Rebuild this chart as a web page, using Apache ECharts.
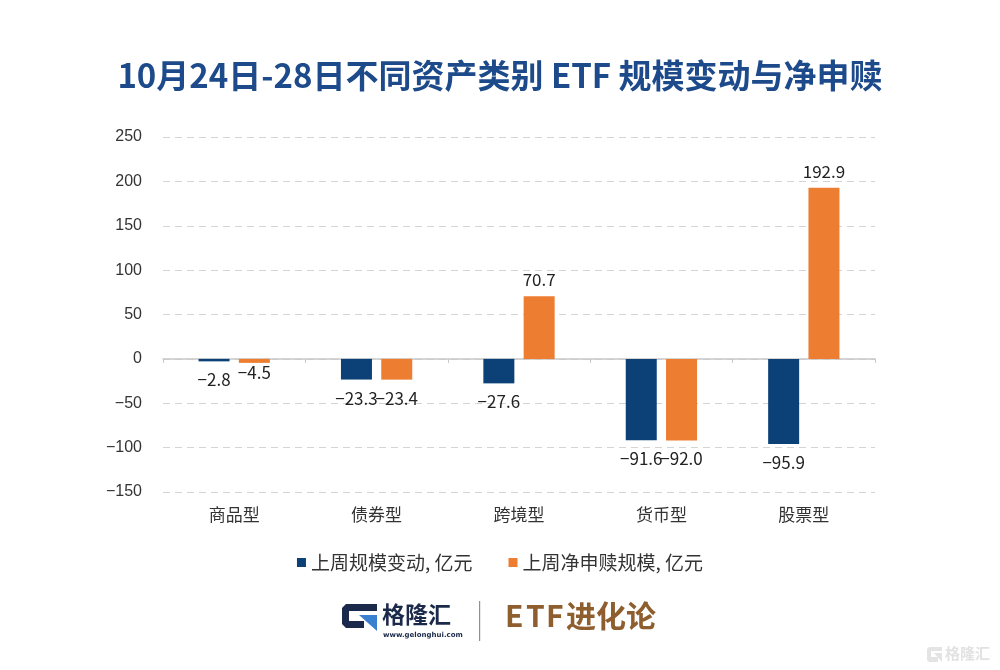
<!DOCTYPE html>
<html>
<head>
<meta charset="utf-8">
<script src="https://cdn.jsdelivr.net/npm/echarts@6/dist/echarts.min.js"></script>
<style>
html,body{margin:0;padding:0;background:#fff;}
#c{width:1000px;height:670px;}
</style>
</head>
<body>
<div id="c"></div>
<script>
const categories = ['商品型','债券型','跨境型','货币型','股票型'];
const scaleChange = [-2.8, -23.3, -27.6, -91.6, -95.9];
const netSubRed = [-4.5, -23.4, 70.7, -92.0, 192.9];
const seriesNames = ['上周规模变动, 亿元','上周净申赎规模, 亿元'];
const yTicks = {min:-150, max:250, interval:50};

const FONT = '"Noto Sans CJK SC","Noto Sans",sans-serif';
const chart = echarts.init(document.getElementById('c'), null, {renderer:'canvas'});

function items(vals, overrides){
  return vals.map((v,i)=>{
    const lab = {position: v>=0 ? 'top':'bottom', distance: v>=0 ? 8 : 10};
    if (overrides && overrides[i]) Object.assign(lab, overrides[i]);
    return {value:v, label:lab};
  });
}
const labelBase = {
  show:true, color:'#222', fontSize:17, fontFamily:FONT,
  formatter: p => p.value.toFixed(1).replace('-', '−')
};

chart.setOption({
  backgroundColor:'#ffffff',
  animation:false,
  title:{
    text:'10月24日-28日不同资产类别 ETF 规模变动与净申赎',
    left:'center', top:54,
    textStyle:{color:'#1d4a8a', fontSize:33, fontWeight:'bold', fontFamily:FONT}
  },
  legend:{
    data:seriesNames, left:'center', top:548,
    icon:'rect', itemWidth:9, itemHeight:9, itemGap:36,
    textStyle:{color:'#333', fontSize:19, fontFamily:FONT}
  },
  grid:{left:163, right:125, top:137, bottom:178, containLabel:false},
  xAxis:[{
    type:'category', data:categories, position:'bottom',
    axisLine:{show:false, onZero:false}, axisTick:{show:false},
    axisLabel:{color:'#333', fontSize:17, margin:14, fontFamily:FONT}
  },{
    type:'category', data:categories, position:'bottom',
    axisLine:{show:true, onZero:true, lineStyle:{color:'#c8c8c8', width:1.5}},
    axisTick:{show:true, length:4, lineStyle:{color:'#c8c8c8'}},
    axisLabel:{show:false}
  }],
  yAxis:{
    type:'value', min:yTicks.min, max:yTicks.max, interval:yTicks.interval,
    axisLine:{show:false}, axisTick:{show:false},
    axisLabel:{color:'#333', fontSize:16, margin:21, fontFamily:'"Liberation Sans",Arial,sans-serif',
      formatter: v => String(v).replace('-', '−')},
    splitLine:{show:true, lineStyle:{color:'#d4d4d4', type:[7,5], width:1.2}}
  },
  series:[{
    name:seriesNames[0], type:'bar', xAxisIndex:0,
    barWidth:31, barGap:'30%',
    itemStyle:{color:'#0b4177'},
    label:labelBase,
    data:items(scaleChange)
  },{
    name:seriesNames[1], type:'bar', xAxisIndex:0,
    barWidth:31, barGap:'30%',
    itemStyle:{color:'#ed7d31'},
    label:labelBase,
    data:items(netSubRed, {0:{distance:1}})
  }],
  graphic:[
    {type:'polygon', shape:{points:[[377,604],[346,604],[342,608],[342,624],[346,628],[364,628],[364,621],[349,621],[349,611],[377,611]]}, style:{fill:'#1b2a4a'}},
    {type:'polygon', shape:{points:[[359,615],[377,615],[377,631]]}, style:{fill:'#3b7fd0'}},
    {type:'text', left:382, top:603, style:{text:'格隆汇', fill:'#1b2a4a', font:'bold 23px '+FONT}},
    {type:'text', left:383, top:632, style:{text:'www.gelonghui.com', fill:'#1b2a4a', font:'bold 7px "DejaVu Sans",sans-serif'}},
    {type:'rect', shape:{x:479, y:601, width:1.2, height:40}, style:{fill:'#9a8f88'}},
    {type:'text', left:505, top:601, style:{text:'E', fill:'#8f5e2e', font:'bold 30px '+FONT}},
    {type:'text', left:526, top:601, style:{text:'T', fill:'#8f5e2e', font:'bold 30px '+FONT}},
    {type:'text', left:546, top:601, style:{text:'F', fill:'#8f5e2e', font:'bold 30px '+FONT}},
    {type:'text', left:566, top:601, style:{text:'进化论', fill:'#8f5e2e', font:'bold 30px '+FONT}},
    {type:'polygon', shape:{points:[[942,647],[929,647],[927,649],[927,660],[929,662],[938,662],[938,657],[931,657],[931,651],[942,651]]}, style:{fill:'#e4e4e4'}},
    {type:'polygon', shape:{points:[[934,653],[942,653],[942,662]]}, style:{fill:'#e4e4e4'}},
    {type:'text', left:945, top:646, style:{text:'格隆汇', fill:'#e2e2e2', font:'bold 15px '+FONT}}
  ]
});
</script>
</body>
</html>
